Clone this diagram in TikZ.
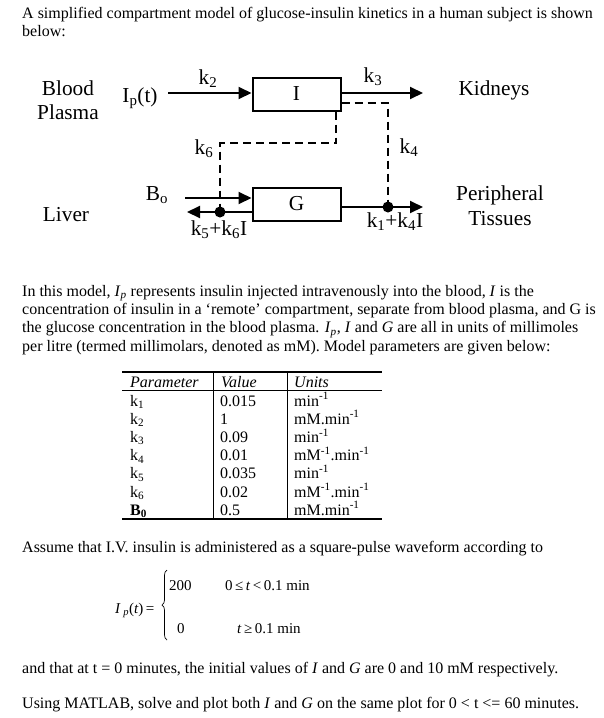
\documentclass[tikz,border=0pt]{standalone}
\usepackage{fontspec}
\setmainfont{Liberation Serif}
\usetikzlibrary{arrows.meta,decorations.pathreplacing}
\newcommand\fbody{\fontsize{16}{18.4}\selectfont}
\newcommand\fdiag{\fontsize{21.3}{24.5}\selectfont}
\newcommand\feqn{\fontsize{15}{17}\selectfont}
\newcommand\sbs[1]{\textsubscript{#1}}
\newcommand\sps[1]{\textsuperscript{#1}}
\begin{document}
\begin{tikzpicture}[x=1pt,y=-1pt,
  txt/.style={anchor=base west,inner sep=0pt,font=\fbody},
  dtxt/.style={anchor=base,inner sep=0pt,font=\fdiag,align=center},
  cell/.style={anchor=base west,inner sep=0pt,font=\fbody},
  etxt/.style={anchor=base west,inner sep=0pt,font=\feqn},
  box/.style={draw,line width=2pt,minimum width=88pt,minimum height=33pt,inner sep=0pt,font=\fdiag},
  arr/.style={line width=2pt,-{Triangle[length=13pt,width=12pt]}},
  dsh/.style={line width=2pt,dash pattern=on 8pt off 5pt},
  rulethick/.style={line width=2pt},
  rulethin/.style={line width=1pt},
  bracestyle/.style={line width=0.7pt,decorate,decoration={brace,amplitude=5pt}}]
\useasboundingbox[fill=white] (0,0) rectangle (604,718);

% intro text
\node[txt] (t1) at (22,18) {A simplified compartment model of glucose-insulin kinetics in a human subject is shown};
\node[txt] (t2) at (22,36.4) {below:};

% diagram labels
\node[dtxt] (blood) at (68,95) {Blood};
\node[dtxt] (plasma) at (68,119.5) {Plasma};
\node[dtxt] (liver) at (66,221.5) {Liver};
\node[dtxt] (kid) at (494,95) {Kidneys};
\node[dtxt] (peri) at (500,200) {Peripheral};
\node[dtxt] (tiss) at (500,225) {Tissues};

% boxes
\node[box] (I) at (296.5,94) {I};
\node[box] (G) at (296.5,204) {G};

% coordinates
\coordinate (k2s) at (168,93);
\coordinate (k3e) at (423,93);
\coordinate (c4) at (388,103);
\coordinate (d4) at (388,207);
\coordinate (c6b) at (336,143);
\coordinate (c6) at (220,143);
\coordinate (d6) at (220,212);
\coordinate (bo) at (185,198);
\coordinate (lo) at (187,212);
\coordinate (ro) at (423,207);

% connectors
\draw[arr] (k2s) -- (k2s -| I.west);
\draw[arr] (k3e -| I.east) -- (k3e);
\draw[dsh] (c4 -| I.east) -- (c4) -- (d4);
\draw[dsh] (c6b |- I.south) -- (c6b) -- (c6) -- (d6);
\draw[arr] (bo) -- (bo -| G.west);
\draw[arr] (lo -| G.west) -- (lo);
\draw[arr] (ro -| G.east) -- (ro);
\fill (d6) circle (5.5);
\fill (d4) circle (5.5);

% connector labels
\node[dtxt] (lip) at (140,102) {I\sbs{p}(t)};
\node[dtxt] (lk2) at (208,84) {k\sbs{2}};
\node[dtxt] (lk3) at (373,82) {k\sbs{3}};
\node[dtxt] (lk4) at (409,153) {k\sbs{4}};
\node[dtxt] (lk6) at (204,154) {k\sbs{6}};
\node[dtxt] (lbo) at (157,200) {B\sbs{o}};
\node[dtxt] (lk56) at (219,235) {k\sbs{5}+k\sbs{6}I};
\node[dtxt] (lk14) at (395,227) {k\sbs{1}+k\sbs{4}I};

% paragraph
\node[txt] (p1) at (22,296) {In this model, \textit{I}\sbs{\textit{p}} represents insulin injected intravenously into the blood, \textit{I} is the};
\node[txt] (p2) at (22,314.4) {concentration of insulin in a ‘remote’ compartment, separate from blood plasma, and G is};
\node[txt] (p3) at (22,332.8) {the glucose concentration in the blood plasma. \textit{I}\sbs{\textit{p}}, \textit{I} and \textit{G} are all in units of millimoles};
\node[txt] (p4) at (22,351.2) {per litre (termed millimolars, denoted as mM). Model parameters are given below:};

% table
\draw[rulethick] (122,372) -- (382,372);
\draw[rulethin] (122,390) -- (382,390);
\draw[rulethick] (122,519) -- (382,519);
\draw[rulethin] (213,372) -- (213,519);
\draw[rulethin] (287,372) -- (287,519);
\node[cell] (h1) at (130,387.5) {\textit{Parameter}};
\node[cell] (h2) at (221,387.5) {\textit{Value}};
\node[cell] (h3) at (294,387.5) {\textit{Units}};
\node[cell] (a1) at (130,406) {k\sbs{1}};
\node[cell] (b1) at (220,406) {0.015};
\node[cell] (c1) at (294,406) {min\sps{-1}};
\node[cell] (a2) at (130,424.2) {k\sbs{2}};
\node[cell] (b2) at (220,424.2) {1};
\node[cell] (c2) at (294,424.2) {mM.min\sps{-1}};
\node[cell] (a3) at (130,442.4) {k\sbs{3}};
\node[cell] (b3) at (220,442.4) {0.09};
\node[cell] (c3) at (294,442.4) {min\sps{-1}};
\node[cell] (a4) at (130,460.6) {k\sbs{4}};
\node[cell] (b4) at (220,460.6) {0.01};
\node[cell] (c4t) at (294,460.6) {mM\sps{-1}.min\sps{-1}};
\node[cell] (a5) at (130,478.8) {k\sbs{5}};
\node[cell] (b5) at (220,478.8) {0.035};
\node[cell] (c5) at (294,478.8) {min\sps{-1}};
\node[cell] (a6) at (130,497) {k\sbs{6}};
\node[cell] (b6) at (220,497) {0.02};
\node[cell] (c6t) at (294,497) {mM\sps{-1}.min\sps{-1}};
\node[cell] (a7) at (130,515.2) {\textbf{B\sbs{0}}};
\node[cell] (b7) at (220,515.2) {0.5};
\node[cell] (c7) at (294,515.2) {mM.min\sps{-1}};

% bottom text
\node[txt] (q1) at (22,552) {Assume that I.V. insulin is administered as a square-pulse waveform according to};
\node[etxt] (eq) at (115,613) {\textit{I}\,\sbs{\textit{p}}(\textit{t})\,=};
\coordinate (br1) at (167,640);
\coordinate (br2) at (167,570);
\draw[bracestyle] (br1) -- (br2);
\node[etxt] (e1) at (169,590) {200};
\node[etxt] (e2) at (225,590) {0\,≤\,\textit{t}\,<\,0.1 min};
\node[etxt] (e3) at (177,633) {0};
\node[etxt] (e4) at (237,633) {\textit{t}\,≥\,0.1 min};
\node[txt] (q2) at (22,673) {and that at t = 0 minutes, the initial values of \textit{I} and \textit{G} are 0 and 10 mM respectively.};
\node[txt] (q3) at (22,708) {Using MATLAB, solve and plot both \textit{I} and \textit{G} on the same plot for 0 < t <= 60 minutes.};
\end{tikzpicture}
\end{document}
